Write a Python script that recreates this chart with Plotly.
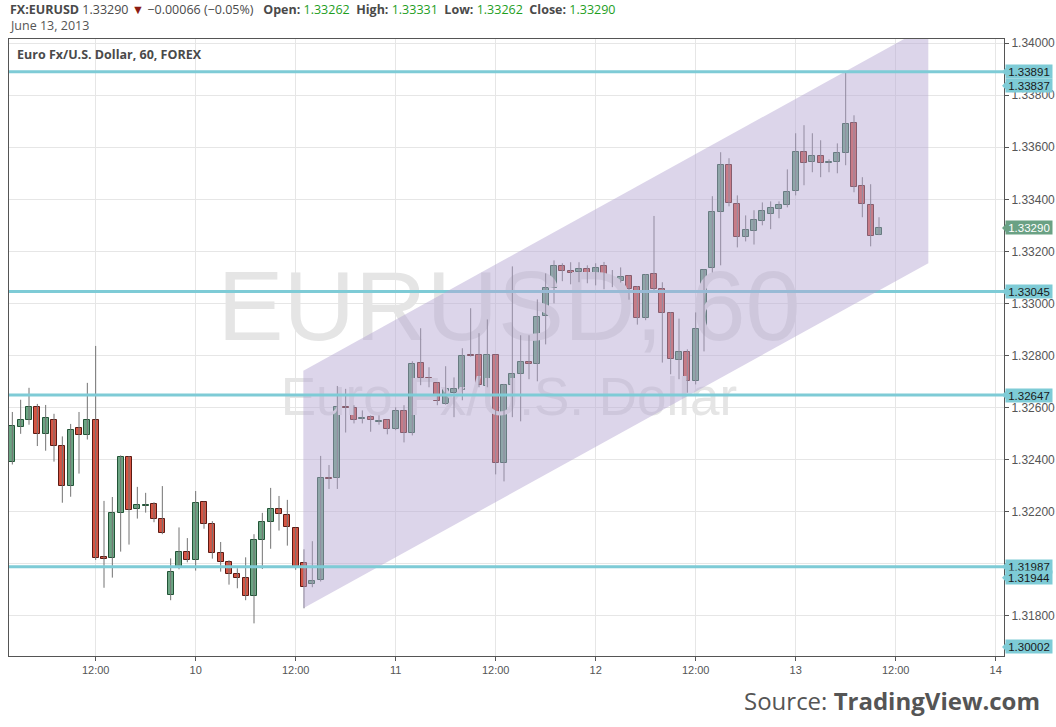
import plotly.graph_objects as go

# ---------------- data ----------------
# hourly candle slots, 0 = Jun 10 00:00 on the chart's time axis
hours = list(range(-22, 83))

opens = [1.32388, 1.32523, 1.32553, 1.32600, 1.32496, 1.32550, 1.32450, 1.32296, 1.32519, 1.32492,
         1.32553, 1.32023, 1.32019, 1.32192, 1.32408, 1.32208, 1.32219, 1.32227, 1.32169, 1.31877,
         1.31981, 1.32042, 1.32012, 1.32235, 1.32150, 1.32038, 1.32004, 1.31958, 1.31942, 1.31873,
         1.32088, 1.32158, 1.32208, 1.32185, 1.32135, 1.32000, 1.31919, 1.31935, 1.32327, 1.32327,
         1.32600, 1.32596, 1.32554, 1.32562, 1.32545, 1.32550, 1.32515, 1.32585, 1.32500, 1.32769,
         1.32712, 1.32692, 1.32612, 1.32654, 1.32665, 1.32800, 1.32800, 1.32681, 1.32800, 1.32385,
         1.32685, 1.32727, 1.32773, 1.32765, 1.32950, 1.33058, 1.33142, 1.33123, 1.33119, 1.33131,
         1.33112, 1.33142, 1.33092, 1.33085, 1.33104, 1.33064, 1.32942, 1.33112, 1.33054, 1.32962,
         1.32781, 1.32812, 1.32700, 1.32896, 1.33135, 1.33350, 1.33531, 1.33381, 1.33254, 1.33277,
         1.33315, 1.33342, 1.33362, 1.33377, 1.33431, 1.33581, 1.33542, 1.33565, 1.33538, 1.33542,
         1.33577, 1.33692, 1.33450, 1.33377, 1.33262]
highs = [1.32582, 1.32629, 1.32675, 1.32613, 1.32609, 1.32575, 1.32488, 1.32536, 1.32582, 1.32694,
         1.32836, 1.32240, 1.32255, 1.32415, 1.32412, 1.32294, 1.32271, 1.32235, 1.32297, 1.32019,
         1.32138, 1.32097, 1.32278, 1.32237, 1.32162, 1.32082, 1.32012, 1.31981, 1.32023, 1.32112,
         1.32194, 1.32290, 1.32259, 1.32244, 1.32137, 1.32054, 1.32085, 1.32413, 1.32378, 1.32682,
         1.32671, 1.32608, 1.32588, 1.32569, 1.32569, 1.32552, 1.32600, 1.32608, 1.32777, 1.32904,
         1.32754, 1.32695, 1.32758, 1.32715, 1.32827, 1.32981, 1.32885, 1.32938, 1.32802, 1.32690,
         1.33142, 1.32877, 1.32877, 1.33015, 1.33115, 1.33165, 1.33154, 1.33158, 1.33158, 1.33146,
         1.33154, 1.33159, 1.33128, 1.33138, 1.33106, 1.33066, 1.33112, 1.33336, 1.33081, 1.32965,
         1.32941, 1.32823, 1.32965, 1.33130, 1.33412, 1.33581, 1.33558, 1.33415, 1.33338, 1.33358,
         1.33388, 1.33392, 1.33392, 1.33515, 1.33654, 1.33685, 1.33654, 1.33627, 1.33554, 1.33615,
         1.33888, 1.33723, 1.33485, 1.33458, 1.33331]
lows = [1.32380, 1.32498, 1.32533, 1.32451, 1.32433, 1.32391, 1.32233, 1.32256, 1.32345, 1.32476,
        1.32013, 1.31906, 1.31945, 1.32045, 1.32072, 1.32172, 1.32195, 1.32158, 1.32112, 1.31858,
        1.31977, 1.32004, 1.31972, 1.32133, 1.32018, 1.31968, 1.31918, 1.31904, 1.31858, 1.31769,
        1.31978, 1.32056, 1.32126, 1.32068, 1.31975, 1.31827, 1.31908, 1.31930, 1.32286, 1.32286,
        1.32503, 1.32538, 1.32538, 1.32506, 1.32533, 1.32496, 1.32512, 1.32465, 1.32492, 1.32685,
        1.32677, 1.32608, 1.32610, 1.32562, 1.32627, 1.32795, 1.32677, 1.32677, 1.32342, 1.32315,
        1.32562, 1.32546, 1.32708, 1.32700, 1.32842, 1.33000, 1.33085, 1.33073, 1.33081, 1.33077,
        1.33069, 1.33054, 1.33062, 1.33080, 1.33014, 1.32918, 1.32935, 1.33050, 1.32772, 1.32727,
        1.32708, 1.32656, 1.32688, 1.32815, 1.33119, 1.33146, 1.33373, 1.33215, 1.33238, 1.33226,
        1.33300, 1.33285, 1.33327, 1.33369, 1.33415, 1.33454, 1.33504, 1.33485, 1.33504, 1.33500,
        1.33531, 1.33427, 1.33331, 1.33219, 1.33262]
closes = [1.32527, 1.32553, 1.32600, 1.32496, 1.32557, 1.32450, 1.32296, 1.32512, 1.32492, 1.32553,
          1.32019, 1.32018, 1.32192, 1.32408, 1.32204, 1.32223, 1.32223, 1.32169, 1.32115, 1.31965,
          1.32042, 1.32012, 1.32231, 1.32150, 1.32038, 1.32004, 1.31958, 1.31942, 1.31873, 1.32088,
          1.32158, 1.32208, 1.32188, 1.32138, 1.31981, 1.31908, 1.31931, 1.32327, 1.32323, 1.32600,
          1.32596, 1.32550, 1.32558, 1.32550, 1.32547, 1.32515, 1.32585, 1.32500, 1.32765, 1.32712,
          1.32696, 1.32623, 1.32669, 1.32669, 1.32796, 1.32797, 1.32685, 1.32800, 1.32385, 1.32685,
          1.32727, 1.32773, 1.32765, 1.32946, 1.33058, 1.33142, 1.33123, 1.33115, 1.33131, 1.33112,
          1.33135, 1.33092, 1.33085, 1.33100, 1.33054, 1.32942, 1.33108, 1.33054, 1.32962, 1.32785,
          1.32812, 1.32700, 1.32900, 1.33127, 1.33350, 1.33531, 1.33385, 1.33254, 1.33281, 1.33319,
          1.33354, 1.33365, 1.33377, 1.33427, 1.33581, 1.33538, 1.33565, 1.33538, 1.33542, 1.33577,
          1.33688, 1.33446, 1.33381, 1.33258, 1.33290]

# horizontal support / resistance levels
levels = [1.33891, 1.33045, 1.32647, 1.31987]
levels_under_channel = [1.33045]

# rising channel (two parallel edges)
channel_x = [12.92, 87.92]
channel_top = [1.32741, 1.34068]
channel_bottom = [1.31827, 1.33154]

# axis ticks
x_tickvals = [-12, 0, 12, 24, 36, 48, 60, 72, 84, 96]
x_ticktext = ["12:00", "10", "12:00", "11", "12:00", "12", "12:00", "13", "12:00", "14"]
y_tickvals = [1.318, 1.320, 1.322, 1.324, 1.326, 1.328, 1.330, 1.332, 1.334, 1.336, 1.338, 1.340]
# 1.32000 sits completely under the 1.31987 price tag in the reference
y_ticktext = ["1.31800", "", "1.32200", "1.32400", "1.32600", "1.32800", "1.33000", "1.33200",
              "1.33400", "1.33600", "1.33800", "1.34000"]

# price tags on the right axis
tag_text = ["1.33891", "1.33837", "1.33290", "1.33045", "1.32647", "1.31987", "1.31944", "1.30002"]
tag_value = [1.33891, 1.33837, 1.33290, 1.33045, 1.32647, 1.31987, 1.31944, 1.30002]
tag_kind = ["line", "line", "last", "line", "line", "line", "line", "line"]

# ---------------- style / layout constants ----------------
W, H = 1056, 727
L, R, T, B = 9, 1004, 39, 656
X_RANGE = [-22.4, 97.0]
Y_RANGE = [1.316435, 1.340165]

UP_FILL, UP_LINE = "#6ba583", "#225437"
DN_FILL, DN_LINE = "#d75442", "#5b1a13"
WICK = "#737373"
LEVEL_COLOR = "#7ecbd6"
LAST_COLOR = "#6aa184"
CHANNEL_FILL = "rgba(182,167,211,0.48)"
GRID = "#e6e6e6"
AXIS = "#555555"
MIN_BODY = 0.00002


def px_x(px):
    return (px - L) / (R - L)


def px_y(py):
    return (B - py) / (B - T)


fig = go.Figure()

# watermark (drawn first so everything sits above it)
fig.add_trace(go.Scatter(x=[37.6], y=[1.32955], mode="text", text=["EURUSD, 60"],
                         textfont=dict(family="Liberation Sans", size=99, color="#e5e5e5"),
                         hoverinfo="skip", showlegend=False))
fig.add_trace(go.Scatter(x=[37.6], y=[1.32622], mode="text", text=["Euro Fx/U.S. Dollar"],
                         textfont=dict(family="Liberation Sans", size=53, color="#e5e5e5"),
                         hoverinfo="skip", showlegend=False))

# wicks
wx, wy = [], []
for t, lo, hi in zip(hours, lows, highs):
    wx += [t, t, None]
    wy += [lo, hi, None]
fig.add_trace(go.Scatter(x=wx, y=wy, mode="lines", line=dict(color=WICK, width=1),
                         hoverinfo="skip", showlegend=False))

# bodies
ux, ub, uh, dx, db, dh = [], [], [], [], [], []
for t, o, c in zip(hours, opens, closes):
    base = min(o, c)
    hgt = max(abs(c - o), MIN_BODY)
    if c >= o:
        ux.append(t); ub.append(base); uh.append(hgt)
    else:
        dx.append(t); db.append(base); dh.append(hgt)
fig.add_trace(go.Bar(x=ux, y=uh, base=ub, width=0.74,
                     marker=dict(color=UP_FILL, line=dict(color=UP_LINE, width=1)),
                     hoverinfo="skip", showlegend=False))
fig.add_trace(go.Bar(x=dx, y=dh, base=db, width=0.74,
                     marker=dict(color=DN_FILL, line=dict(color=DN_LINE, width=1)),
                     hoverinfo="skip", showlegend=False))

shapes = []
# levels drawn beneath the channel
for lv in levels:
    if lv in levels_under_channel:
        shapes.append(dict(type="line", xref="paper", x0=0, x1=1, yref="y", y0=lv, y1=lv,
                           line=dict(color=LEVEL_COLOR, width=3), layer="above"))
# channel
path = (f"M{channel_x[0]},{channel_top[0]} L{channel_x[1]},{channel_top[1]} "
        f"L{channel_x[1]},{channel_bottom[1]} L{channel_x[0]},{channel_bottom[0]} Z")
shapes.append(dict(type="path", xref="x", yref="y", path=path, fillcolor=CHANNEL_FILL,
                   line=dict(width=0), layer="above"))
# levels drawn above the channel
for lv in levels:
    if lv not in levels_under_channel:
        shapes.append(dict(type="line", xref="paper", x0=0, x1=1, yref="y", y0=lv, y1=lv,
                           line=dict(color=LEVEL_COLOR, width=3), layer="above"))

annotations = []
for txt, v, kind in zip(tag_text, tag_value, tag_kind):
    bg = LAST_COLOR if kind == "last" else LEVEL_COLOR
    fg = "#ffffff" if kind == "last" else "#1a1a1a"
    if v < Y_RANGE[0]:
        yref, yv, yanchor, yshift, tri_y = "paper", 0, "bottom", 2, 9
    else:
        yref, yv, yanchor, yshift, tri_y = "y", v, "middle", 0, 0
    annotations.append(dict(xref="paper", x=1, xanchor="left", xshift=1,
                            yref=yref, y=yv, yanchor=yanchor, yshift=yshift,
                            text=txt, showarrow=False, bgcolor=bg, borderpad=1,
                            width=44, height=11, align="center",
                            font=dict(family="Liberation Sans", size=11.5, color=fg)))
    shapes.append(dict(type="path", xref="paper", xsizemode="pixel", xanchor=1,
                       yref=yref, ysizemode="pixel", yanchor=yv,
                       path=f"M-2,{tri_y} L3,{tri_y + 5} L3,{tri_y - 5} Z",
                       fillcolor=bg, line=dict(width=0), layer="above"))

# header texts
G = "#1e9e1e"
header = ("<b>FX:EURUSD</b> 1.33290 <span style='color:#8c1c13'>▼</span> −0.00066 (−0.05%)&nbsp;&nbsp; "
          f"<b>Open:</b> <span style='color:{G}'>1.33262</span>&nbsp; "
          f"<b>High:</b> <span style='color:{G}'>1.33331</span>&nbsp; "
          f"<b>Low:</b> <span style='color:{G}'>1.33262</span>&nbsp; "
          f"<b>Close:</b> <span style='color:{G}'>1.33290</span>")
annotations.append(dict(xref="paper", yref="paper", x=px_x(8), y=px_y(10), xanchor="left",
                        yanchor="middle", text=header, showarrow=False,
                        font=dict(family="Open Sans", size=12.5, color="#4a4a4a")))
annotations.append(dict(xref="paper", yref="paper", x=px_x(8), y=px_y(26), xanchor="left",
                        yanchor="middle", text="June 13, 2013", showarrow=False,
                        font=dict(family="Open Sans", size=12.5, color="#555555")))
annotations.append(dict(xref="paper", yref="paper", x=px_x(15), y=px_y(55), xanchor="left",
                        yanchor="middle", text="<b>Euro Fx/U.S. Dollar, 60, FOREX</b>",
                        showarrow=False,
                        font=dict(family="Open Sans", size=12.5, color="#4a4a4a")))
annotations.append(dict(xref="paper", yref="paper", x=px_x(1042), y=px_y(700), xanchor="right",
                        yanchor="middle", text="Source: <b>TradingView.com</b>", showarrow=False,
                        font=dict(family="Open Sans", size=24, color="#555555")))

fig.update_layout(
    width=W, height=H, autosize=False,
    margin=dict(l=L, r=W - R, t=T, b=H - B, pad=0),
    paper_bgcolor="white", plot_bgcolor="white",
    barmode="overlay", bargap=0, showlegend=False, hovermode=False,
    shapes=shapes, annotations=annotations,
    xaxis=dict(range=X_RANGE, tickvals=x_tickvals, ticktext=x_ticktext, automargin=False,
               showgrid=True, gridcolor=GRID, gridwidth=1, zeroline=False,
               showline=True, linecolor=AXIS, linewidth=1, mirror=True,
               ticks="outside", ticklen=4, tickcolor=AXIS,
               tickfont=dict(family="Liberation Sans", size=11, color="#555555")),
    yaxis=dict(range=Y_RANGE, side="right", tickvals=y_tickvals, ticktext=y_ticktext,
               automargin=False,
               showgrid=True, gridcolor=GRID, gridwidth=1, zeroline=False,
               showline=True, linecolor=AXIS, linewidth=1, mirror=True,
               ticks="outside", ticklen=4, tickcolor=AXIS,
               tickfont=dict(family="Liberation Sans", size=12, color="#555555")),
)

fig.write_html("out.html", config={"displayModeBar": False},
               post_script="document.body.style.margin='0';document.body.style.overflow='hidden';")
